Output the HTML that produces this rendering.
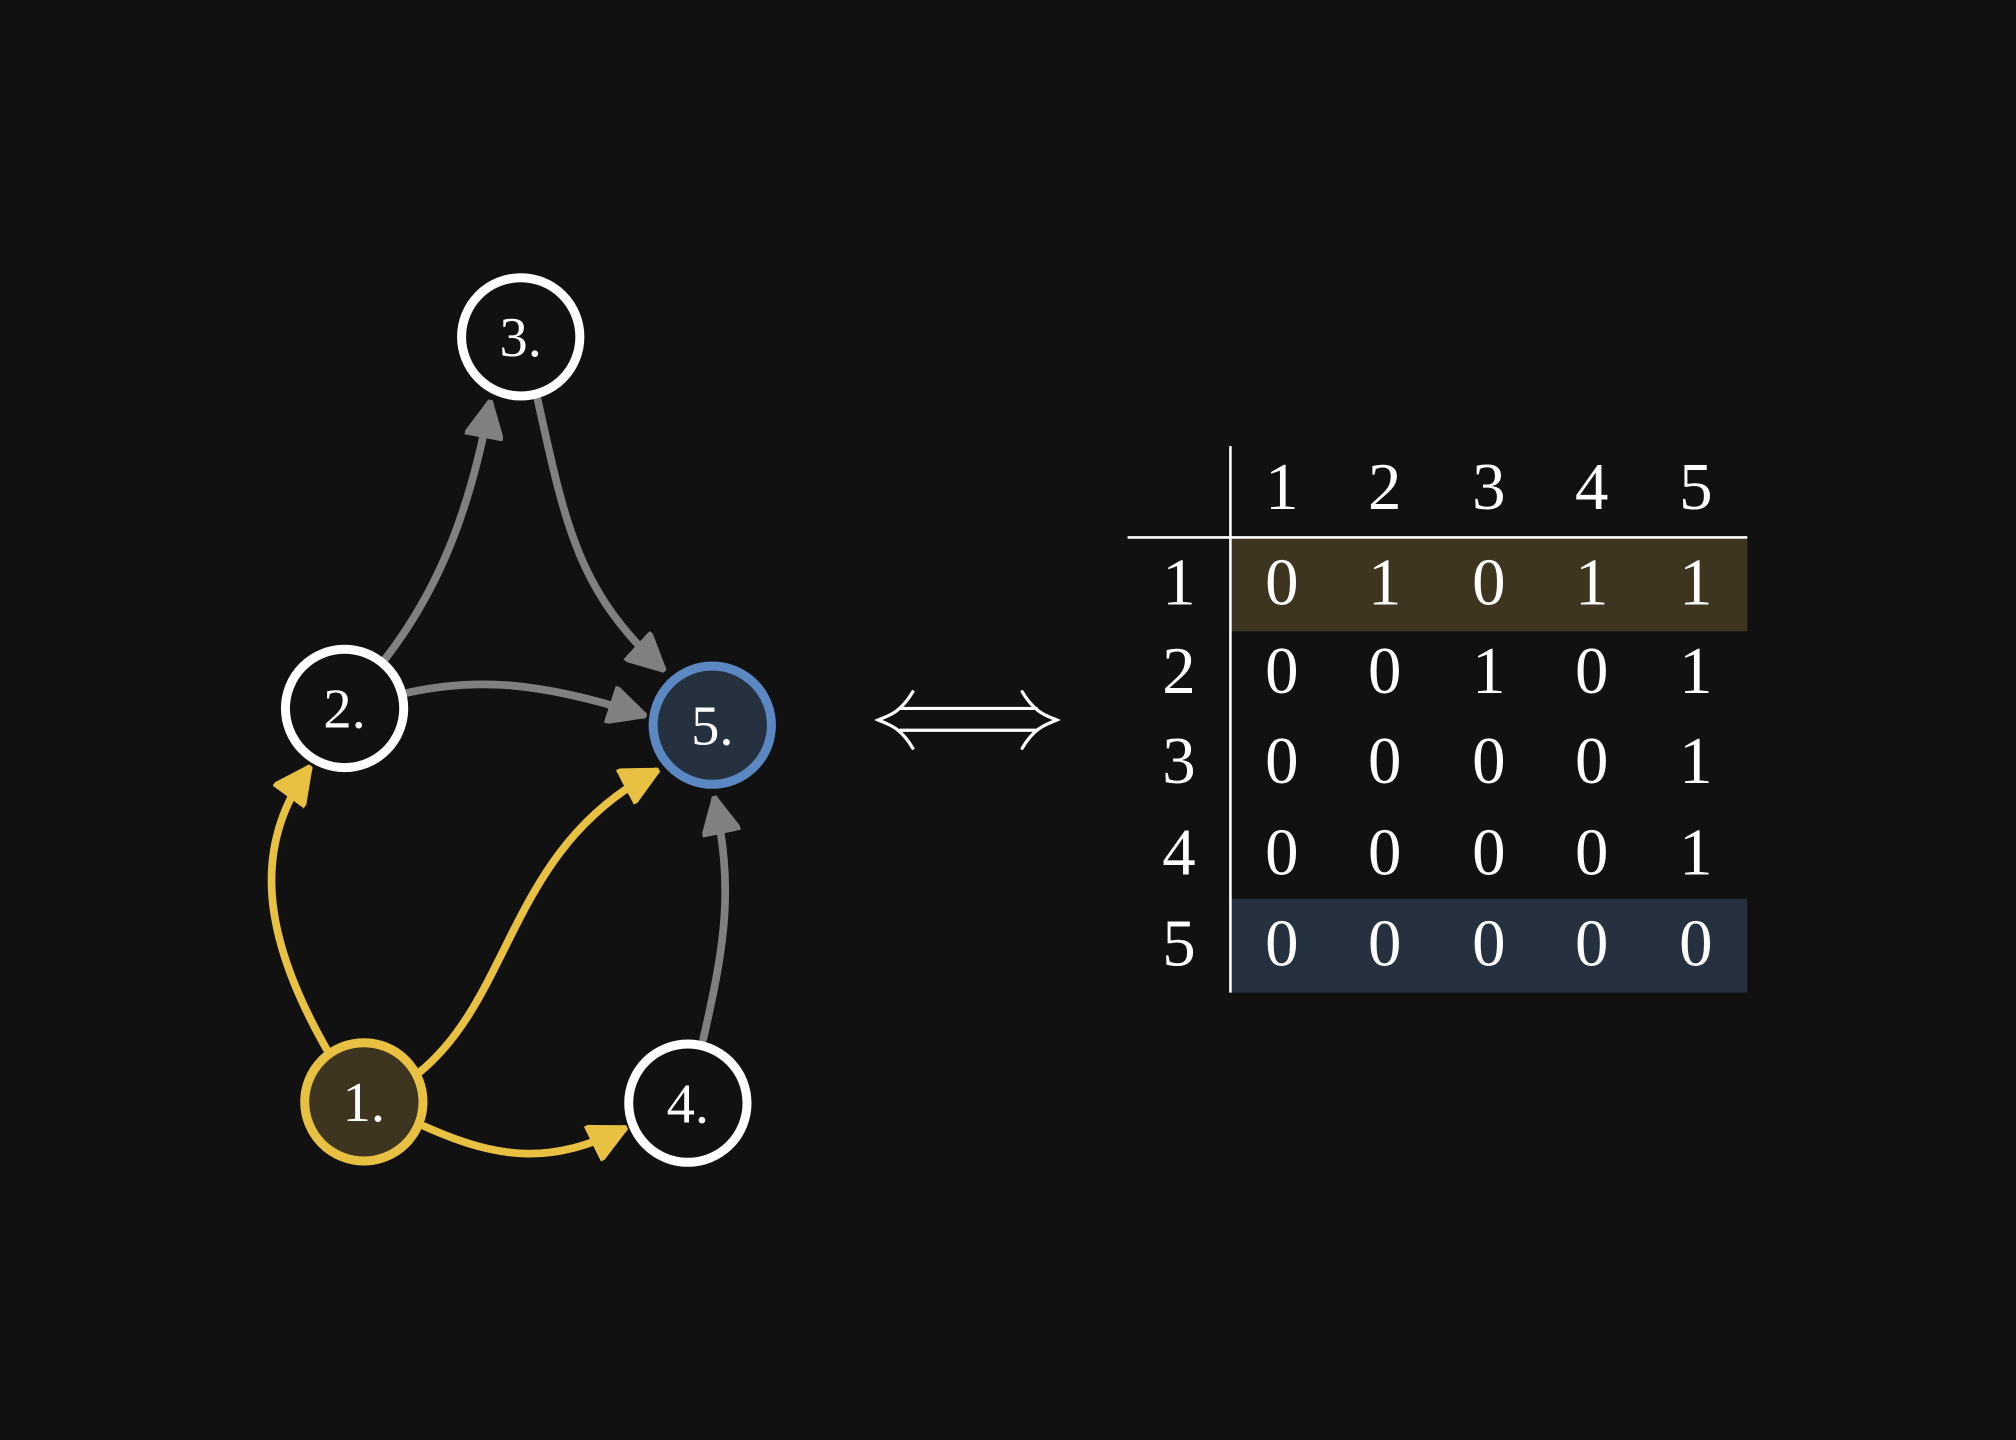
<!DOCTYPE html>
<html><head><meta charset="utf-8"><style>
html,body{margin:0;padding:0;background:#111111;}
svg{display:block}
text{font-family:"Liberation Serif",serif;fill:#fff}
</style></head><body>
<svg width="2016" height="1440" viewBox="0 0 1568 1120" xmlns="http://www.w3.org/2000/svg">
<defs>
<marker id="ag" viewBox="0 0 10 10" refX="9" refY="5" markerWidth="30" markerHeight="30" markerUnits="userSpaceOnUse" orient="auto">
<path d="M0,0 L10,5 L0,10 z" fill="#808080" stroke="#808080" stroke-linejoin="round"/></marker>
<marker id="ay" viewBox="0 0 10 10" refX="9" refY="5" markerWidth="30" markerHeight="30" markerUnits="userSpaceOnUse" orient="auto">
<path d="M0,0 L10,5 L0,10 z" fill="#e8c142" stroke="#e8c142" stroke-linejoin="round"/></marker>
</defs>
<rect width="1568" height="1120" fill="#111111"/>
<g fill="none" stroke-width="6" stroke-linecap="round">
<path d="M300,512 C340,460 365,400 381,314" stroke="#808080" marker-end="url(#ag)"/>
<path d="M418,310 C440,410 450,460 515,520" stroke="#808080" marker-end="url(#ag)"/>
<path d="M316,539 C370,527 420,530 500,556" stroke="#808080" marker-end="url(#ag)"/>
<path d="M547,808 C565,730 570,690 556,622" stroke="#808080" marker-end="url(#ag)"/>
<path d="M254,816 C205,730 195,660 240,598" stroke="#e8c142" marker-end="url(#ay)"/>
<path d="M325,835 C400,775 395,660 510,600" stroke="#e8c142" marker-end="url(#ay)"/>
<path d="M330,876 C390,903 430,905 485,878" stroke="#e8c142" marker-end="url(#ay)"/>
</g>
<g stroke-width="7">
<circle cx="405" cy="262" r="46" fill="#111" stroke="#fff"/>
<circle cx="268" cy="551" r="46" fill="#111" stroke="#fff"/>
<circle cx="554" cy="564" r="46" fill="#263140" stroke="#5b88c2"/>
<circle cx="283" cy="857" r="46" fill="#3d3520" stroke="#e8c142"/>
<circle cx="535" cy="858" r="46" fill="#111" stroke="#fff"/>
</g>
<g font-size="44" text-anchor="middle">
<text x="405" y="277">3.</text>
<text x="268" y="566">2.</text>
<text x="554" y="579">5.</text>
<text x="283" y="872">1.</text>
<text x="535" y="873">4.</text>
</g>
<g stroke="#fff" stroke-width="2.5" fill="none" stroke-linecap="round">
<line x1="700" y1="551" x2="806" y2="551"/>
<line x1="700" y1="568" x2="806" y2="568"/>
<path d="M710,538 C700,555 690,557 683,560 C690,563 700,565 710,582"/>
<path d="M795,538 C805,555 815,557 822,560 C815,563 805,565 795,582"/>
</g>
<rect x="958" y="419" width="401" height="72" fill="#3d3520"/>
<rect x="958" y="699" width="401" height="73" fill="#263140"/>
<line x1="957" y1="347" x2="957" y2="772" stroke="#fff" stroke-width="2"/>
<line x1="877" y1="418" x2="1359" y2="418" stroke="#fff" stroke-width="2"/>
<g font-size="52" text-anchor="middle">
<text x="997" y="396">1</text><text x="1077" y="396">2</text><text x="1158" y="396">3</text><text x="1238" y="396">4</text><text x="1319" y="396">5</text>
<text x="917" y="470">1</text><text x="917" y="539">2</text><text x="917" y="609">3</text><text x="917" y="680">4</text><text x="917" y="751">5</text>
<text x="997" y="470">0</text><text x="1077" y="470">1</text><text x="1158" y="470">0</text><text x="1238" y="470">1</text><text x="1319" y="470">1</text>
<text x="997" y="539">0</text><text x="1077" y="539">0</text><text x="1158" y="539">1</text><text x="1238" y="539">0</text><text x="1319" y="539">1</text>
<text x="997" y="609">0</text><text x="1077" y="609">0</text><text x="1158" y="609">0</text><text x="1238" y="609">0</text><text x="1319" y="609">1</text>
<text x="997" y="680">0</text><text x="1077" y="680">0</text><text x="1158" y="680">0</text><text x="1238" y="680">0</text><text x="1319" y="680">1</text>
<text x="997" y="751">0</text><text x="1077" y="751">0</text><text x="1158" y="751">0</text><text x="1238" y="751">0</text><text x="1319" y="751">0</text>
</g>
</svg>
</body></html>
